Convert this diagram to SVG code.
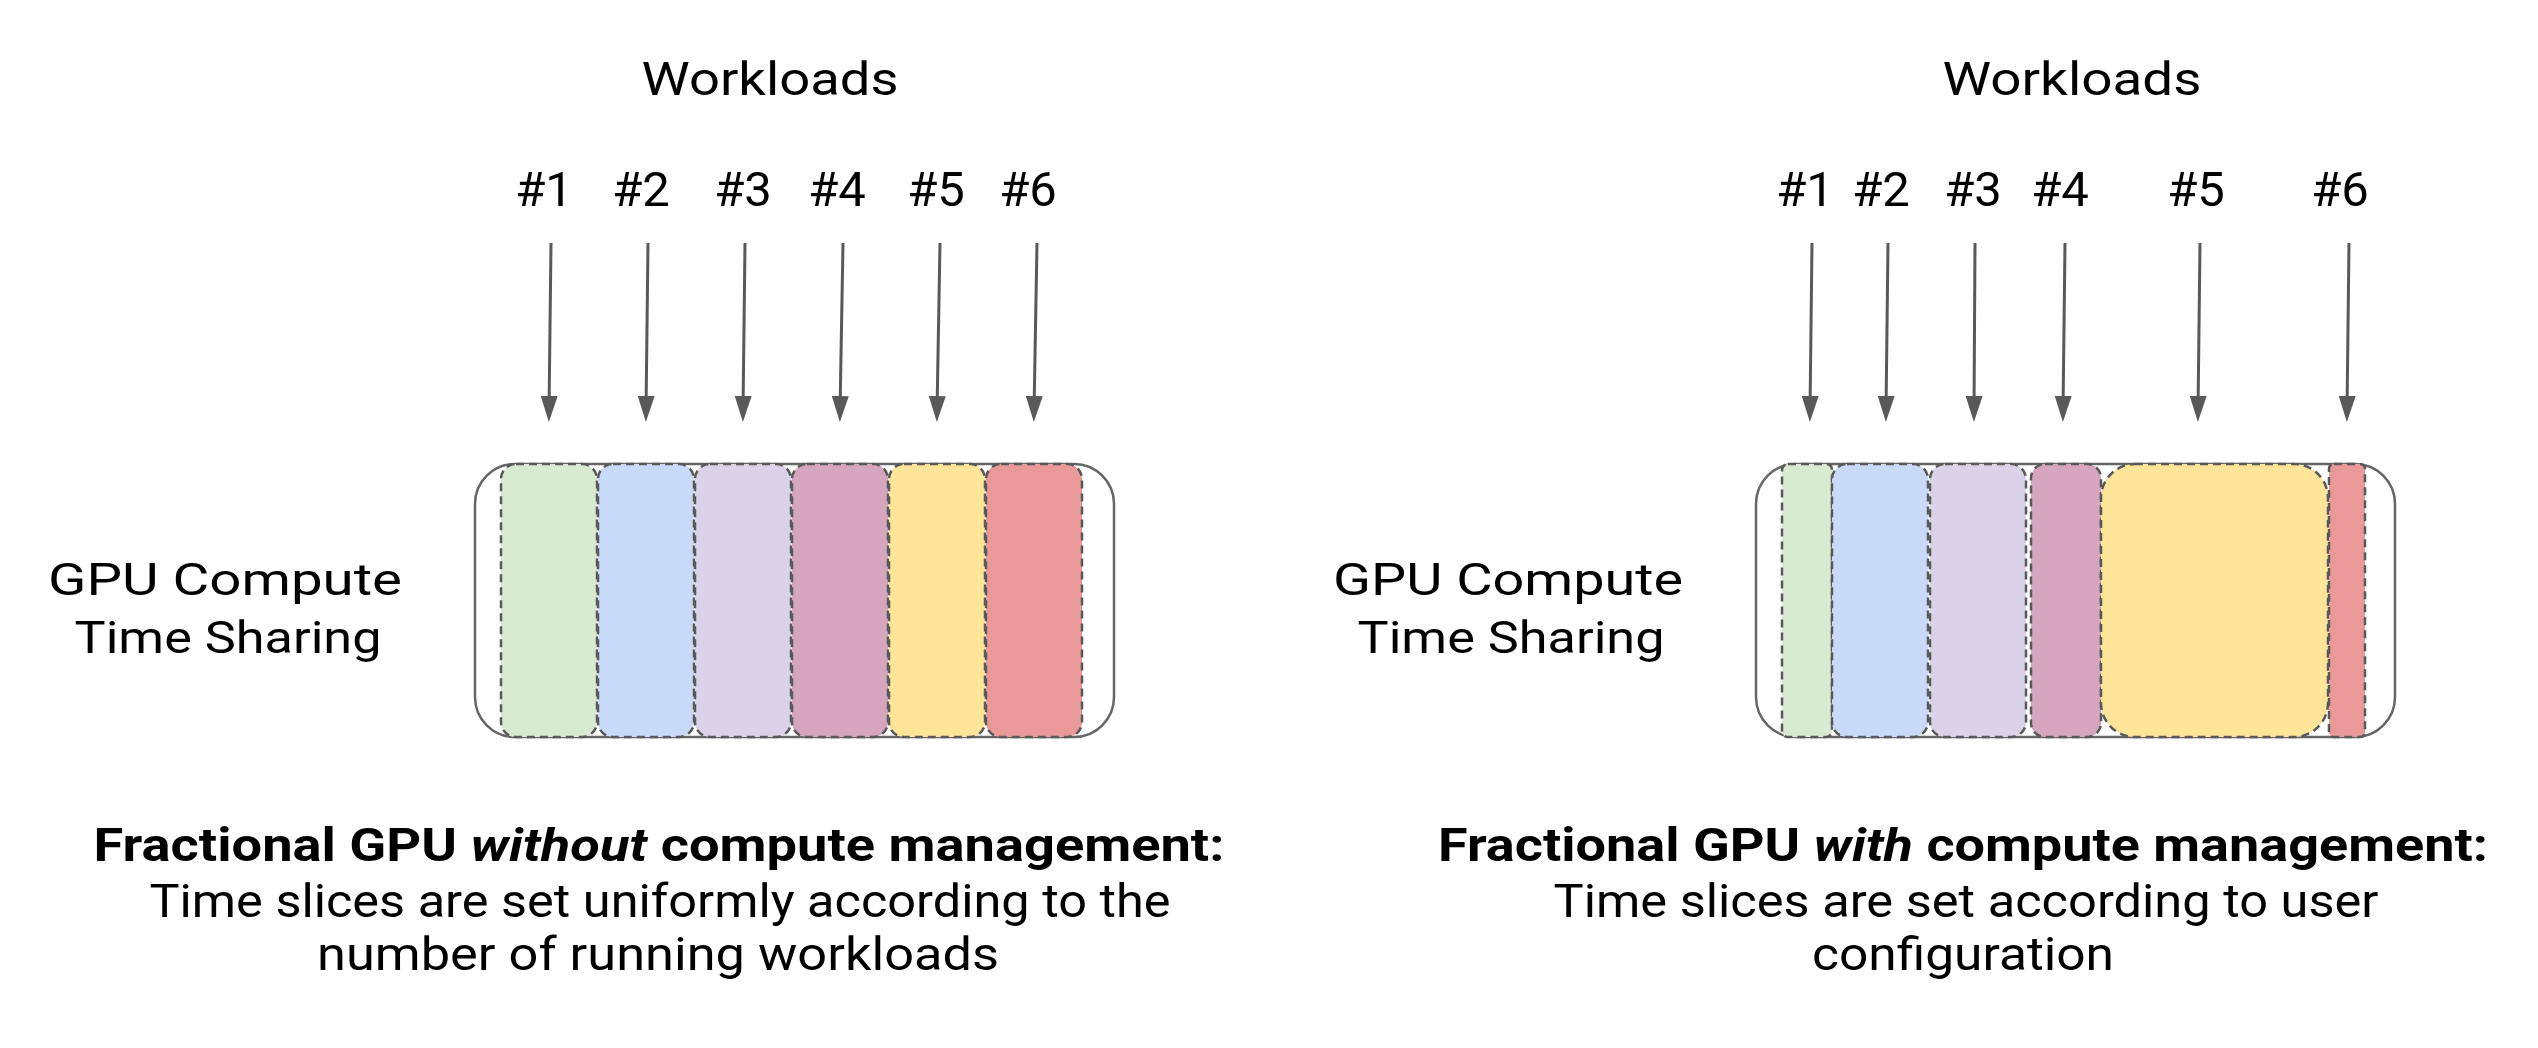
<svg xmlns="http://www.w3.org/2000/svg" width="2538" height="1048" viewBox="0 0 2538 1048">
<defs>
<marker id="ah" markerUnits="userSpaceOnUse" markerWidth="28" markerHeight="18" refX="16" refY="8.5" orient="auto">
<path d="M0,0 L26,8.5 L0,17 z" fill="#595959"/>
</marker>
<style>
text{font-family:Roboto,"Liberation Sans",sans-serif;fill:#000;text-anchor:middle}
.t{font-size:46px}
.n{font-size:49px}
.g{font-size:45px}
.b{font-size:47px;font-weight:700}
.d{font-size:47px}
.outer{fill:none;stroke:#666;stroke-width:2.5}
.s{stroke:#595959;stroke-width:2.5;stroke-dasharray:8 5}
.c1{fill:#d9ead3}.c2{fill:#c9daf8}.c3{fill:#d9d2e9}.c4{fill:#d5a6bd}.c5{fill:#ffe599}.c6{fill:#ea9999}
.a{stroke:#595959;stroke-width:3;fill:none;marker-end:url(#ah)}
</style>
</defs>
<rect width="2538" height="1048" fill="#fff"/>

<g id="left-panel">
<text class="t" x="770" y="95" textLength="257" lengthAdjust="spacingAndGlyphs">Workloads</text>
<g id="l-labels">
<text class="n" x="544" y="206">#1</text>
<text class="n" x="641" y="206">#2</text>
<text class="n" x="743" y="206">#3</text>
<text class="n" x="837" y="206">#4</text>
<text class="n" x="936" y="206">#5</text>
<text class="n" x="1028" y="206">#6</text>
</g>
<g id="l-gpu-label">
<text class="g" x="225" y="595" textLength="354" lengthAdjust="spacingAndGlyphs">GPU Compute</text>
<text class="g" x="228" y="653" textLength="307" lengthAdjust="spacingAndGlyphs">Time Sharing</text>
</g>
<g id="l-gpu">
<rect class="outer" x="475" y="464" width="639" height="273" rx="40"/>
<rect id="l-w1" class="s c1" x="501" y="464" width="96" height="273" rx="15"/>
<rect id="l-w2" class="s c2" x="598" y="464" width="96" height="273" rx="15"/>
<rect id="l-w3" class="s c3" x="695" y="464" width="96" height="273" rx="15"/>
<rect id="l-w4" class="s c4" x="792" y="464" width="96" height="273" rx="15"/>
<rect id="l-w5" class="s c5" x="889" y="464" width="96" height="273" rx="15"/>
<rect id="l-w6" class="s c6" x="986" y="464" width="96" height="273" rx="15"/>
</g>
<g id="l-caption">
<text class="b" x="659" y="861" textLength="1131" lengthAdjust="spacingAndGlyphs">Fractional GPU <tspan font-style="italic">without</tspan> compute management:</text>
<text class="d" x="660" y="917" textLength="1021" lengthAdjust="spacingAndGlyphs">Time slices are set uniformly according to the</text>
<text class="d" x="658" y="970" textLength="682" lengthAdjust="spacingAndGlyphs">number of running workloads</text>
</g>
</g>

<g id="right-panel">
<text class="t" x="2072" y="95" textLength="259" lengthAdjust="spacingAndGlyphs">Workloads</text>
<g id="r-labels">
<text class="n" x="1805" y="206">#1</text>
<text class="n" x="1881" y="206">#2</text>
<text class="n" x="1973" y="206">#3</text>
<text class="n" x="2060" y="206">#4</text>
<text class="n" x="2196" y="206">#5</text>
<text class="n" x="2340" y="206">#6</text>
</g>
<g id="r-gpu-label">
<text class="g" x="1508" y="595" textLength="350" lengthAdjust="spacingAndGlyphs">GPU Compute</text>
<text class="g" x="1511" y="653" textLength="307" lengthAdjust="spacingAndGlyphs">Time Sharing</text>
</g>
<g id="r-gpu">
<rect class="outer" x="1756" y="464" width="639" height="273" rx="40"/>
<rect id="r-w1" class="s c1" x="1782" y="464" width="50" height="273" rx="6"/>
<rect id="r-w2" class="s c2" x="1832" y="464" width="96" height="273" rx="15"/>
<rect id="r-w3" class="s c3" x="1930" y="464" width="96" height="273" rx="15"/>
<rect id="r-w4" class="s c4" x="2031" y="464" width="70" height="273" rx="14"/>
<rect id="r-w5" class="s c5" x="2101" y="464" width="227" height="273" rx="34"/>
<rect id="r-w6" class="s c6" x="2329" y="464" width="36" height="273" rx="5"/>
</g>
<g id="r-caption">
<text class="b" x="1963" y="861" textLength="1050" lengthAdjust="spacingAndGlyphs">Fractional GPU <tspan font-style="italic">with</tspan> compute management:</text>
<text class="d" x="1966" y="917" textLength="825" lengthAdjust="spacingAndGlyphs">Time slices are set according to user</text>
<text class="d" x="1963" y="970" textLength="302" lengthAdjust="spacingAndGlyphs">configuration</text>
</g>
</g>

<g id="connectors">
<line class="a" x1="551" y1="243" x2="549" y2="412"/>
<line class="a" x1="648" y1="243" x2="646" y2="412"/>
<line class="a" x1="745" y1="243" x2="743" y2="412"/>
<line class="a" x1="843" y1="243" x2="840" y2="412"/>
<line class="a" x1="940" y1="243" x2="937" y2="412"/>
<line class="a" x1="1037" y1="243" x2="1034" y2="412"/>
<line class="a" x1="1812" y1="243" x2="1810" y2="412"/>
<line class="a" x1="1888" y1="243" x2="1886" y2="412"/>
<line class="a" x1="1975" y1="243" x2="1974" y2="412"/>
<line class="a" x1="2065" y1="243" x2="2063" y2="412"/>
<line class="a" x1="2200" y1="243" x2="2198" y2="412"/>
<line class="a" x1="2349" y1="243" x2="2347" y2="412"/>
</g>
</svg>
